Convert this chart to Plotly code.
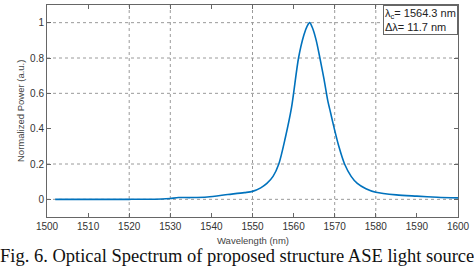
import plotly.graph_objects as go

wavelength = [1502, 1510, 1520, 1528, 1530, 1532, 1535, 1539, 1544, 1548, 1550, 1552,
              1553.5, 1555, 1556.4, 1558, 1559.5, 1561.2, 1562.5, 1563.3, 1563.9, 1564.6,
              1565.5, 1566.4, 1567.4, 1568.3, 1569.0, 1570, 1571, 1572.4, 1574, 1575.5,
              1577.6, 1580, 1585, 1590, 1595, 1600]
power = [0, 0, 0, 0.002, 0.005, 0.01, 0.01, 0.013, 0.027, 0.038, 0.045, 0.065,
         0.09, 0.13, 0.2, 0.35, 0.52, 0.8, 0.93, 0.98, 1.0, 0.97,
         0.9, 0.8, 0.68, 0.56, 0.49, 0.39, 0.3, 0.2, 0.13, 0.09,
         0.06, 0.04, 0.025, 0.018, 0.012, 0.008]

x_ticks = list(range(1500, 1601, 10))
y_ticks = [0, 0.2, 0.4, 0.6, 0.8, 1]
y_tick_labels = ["0", "0.2", "0.4", "0.6", "0.8", "1"]
x_grid = [1520, 1530, 1550, 1570, 1580]
y_grid = [0, 0.2, 0.6, 0.8, 1]

fig = go.Figure()
fig.add_trace(go.Scatter(x=wavelength, y=power, mode="lines",
                         line=dict(color="#0072BD", width=1.6, shape="spline", smoothing=0.8),
                         hoverinfo="skip"))

shapes = []
for gx in x_grid:
    shapes.append(dict(type="line", xref="x", yref="paper", x0=gx, x1=gx, y0=0, y1=1,
                       line=dict(color="#9a9a9a", width=1, dash="dot"), layer="below"))
for gy in y_grid:
    shapes.append(dict(type="line", xref="paper", yref="y", x0=0, x1=1, y0=gy, y1=gy,
                       line=dict(color="#9a9a9a", width=1, dash="dot"), layer="below"))

axis_common = dict(showline=True, linecolor="#666666", linewidth=1, mirror="ticks",
                   ticks="inside", ticklen=4, tickcolor="#666666", showgrid=False,
                   zeroline=False, ticklabeloverflow="allow",
                   tickfont=dict(family="Arial, Liberation Sans", size=10, color="#333333"))

fig.update_layout(
    width=474, height=267,
    margin=dict(l=47, r=11, t=4, b=50),
    paper_bgcolor="white", plot_bgcolor="white",
    showlegend=False,
    shapes=shapes,
    xaxis=dict(range=[1500, 1600], tickvals=x_ticks, **axis_common),
    yaxis=dict(range=[-0.1, 1.1], tickvals=y_ticks, ticktext=y_tick_labels, **axis_common),
    annotations=[
        dict(text="Normalized Power (a.u.)", xref="paper", yref="paper", x=0, y=0.5,
             xshift=-27, textangle=-90, showarrow=False, xanchor="center", yanchor="middle",
             font=dict(family="Arial, Liberation Sans", size=9.5, color="#444444")),
        dict(text="Wavelength (nm)", xref="paper", yref="paper", x=0.5, y=0,
             yshift=-23, showarrow=False, xanchor="center", yanchor="middle",
             font=dict(family="Arial, Liberation Sans", size=9.5, color="#444444")),
        dict(text="Fig. 6. Optical Spectrum of proposed structure ASE light source",
             xref="paper", yref="paper", x=0.5, y=0, xshift=-16, yshift=-39,
             showarrow=False, xanchor="center", yanchor="middle",
             font=dict(family="Liberation Serif, Times New Roman", size=18.5, color="#111111")),
        dict(text="λ<sub>c</sub>= 1564.3 nm<br>Δλ= 11.7 nm", xref="paper", yref="paper",
             x=1, y=1, xanchor="right", yanchor="top", showarrow=False, align="left",
             bordercolor="#666666", borderwidth=1, bgcolor="white", borderpad=1,
             font=dict(family="Arial, Liberation Sans", size=11, color="#222222")),
    ],
)

fig.write_html("out.html")
